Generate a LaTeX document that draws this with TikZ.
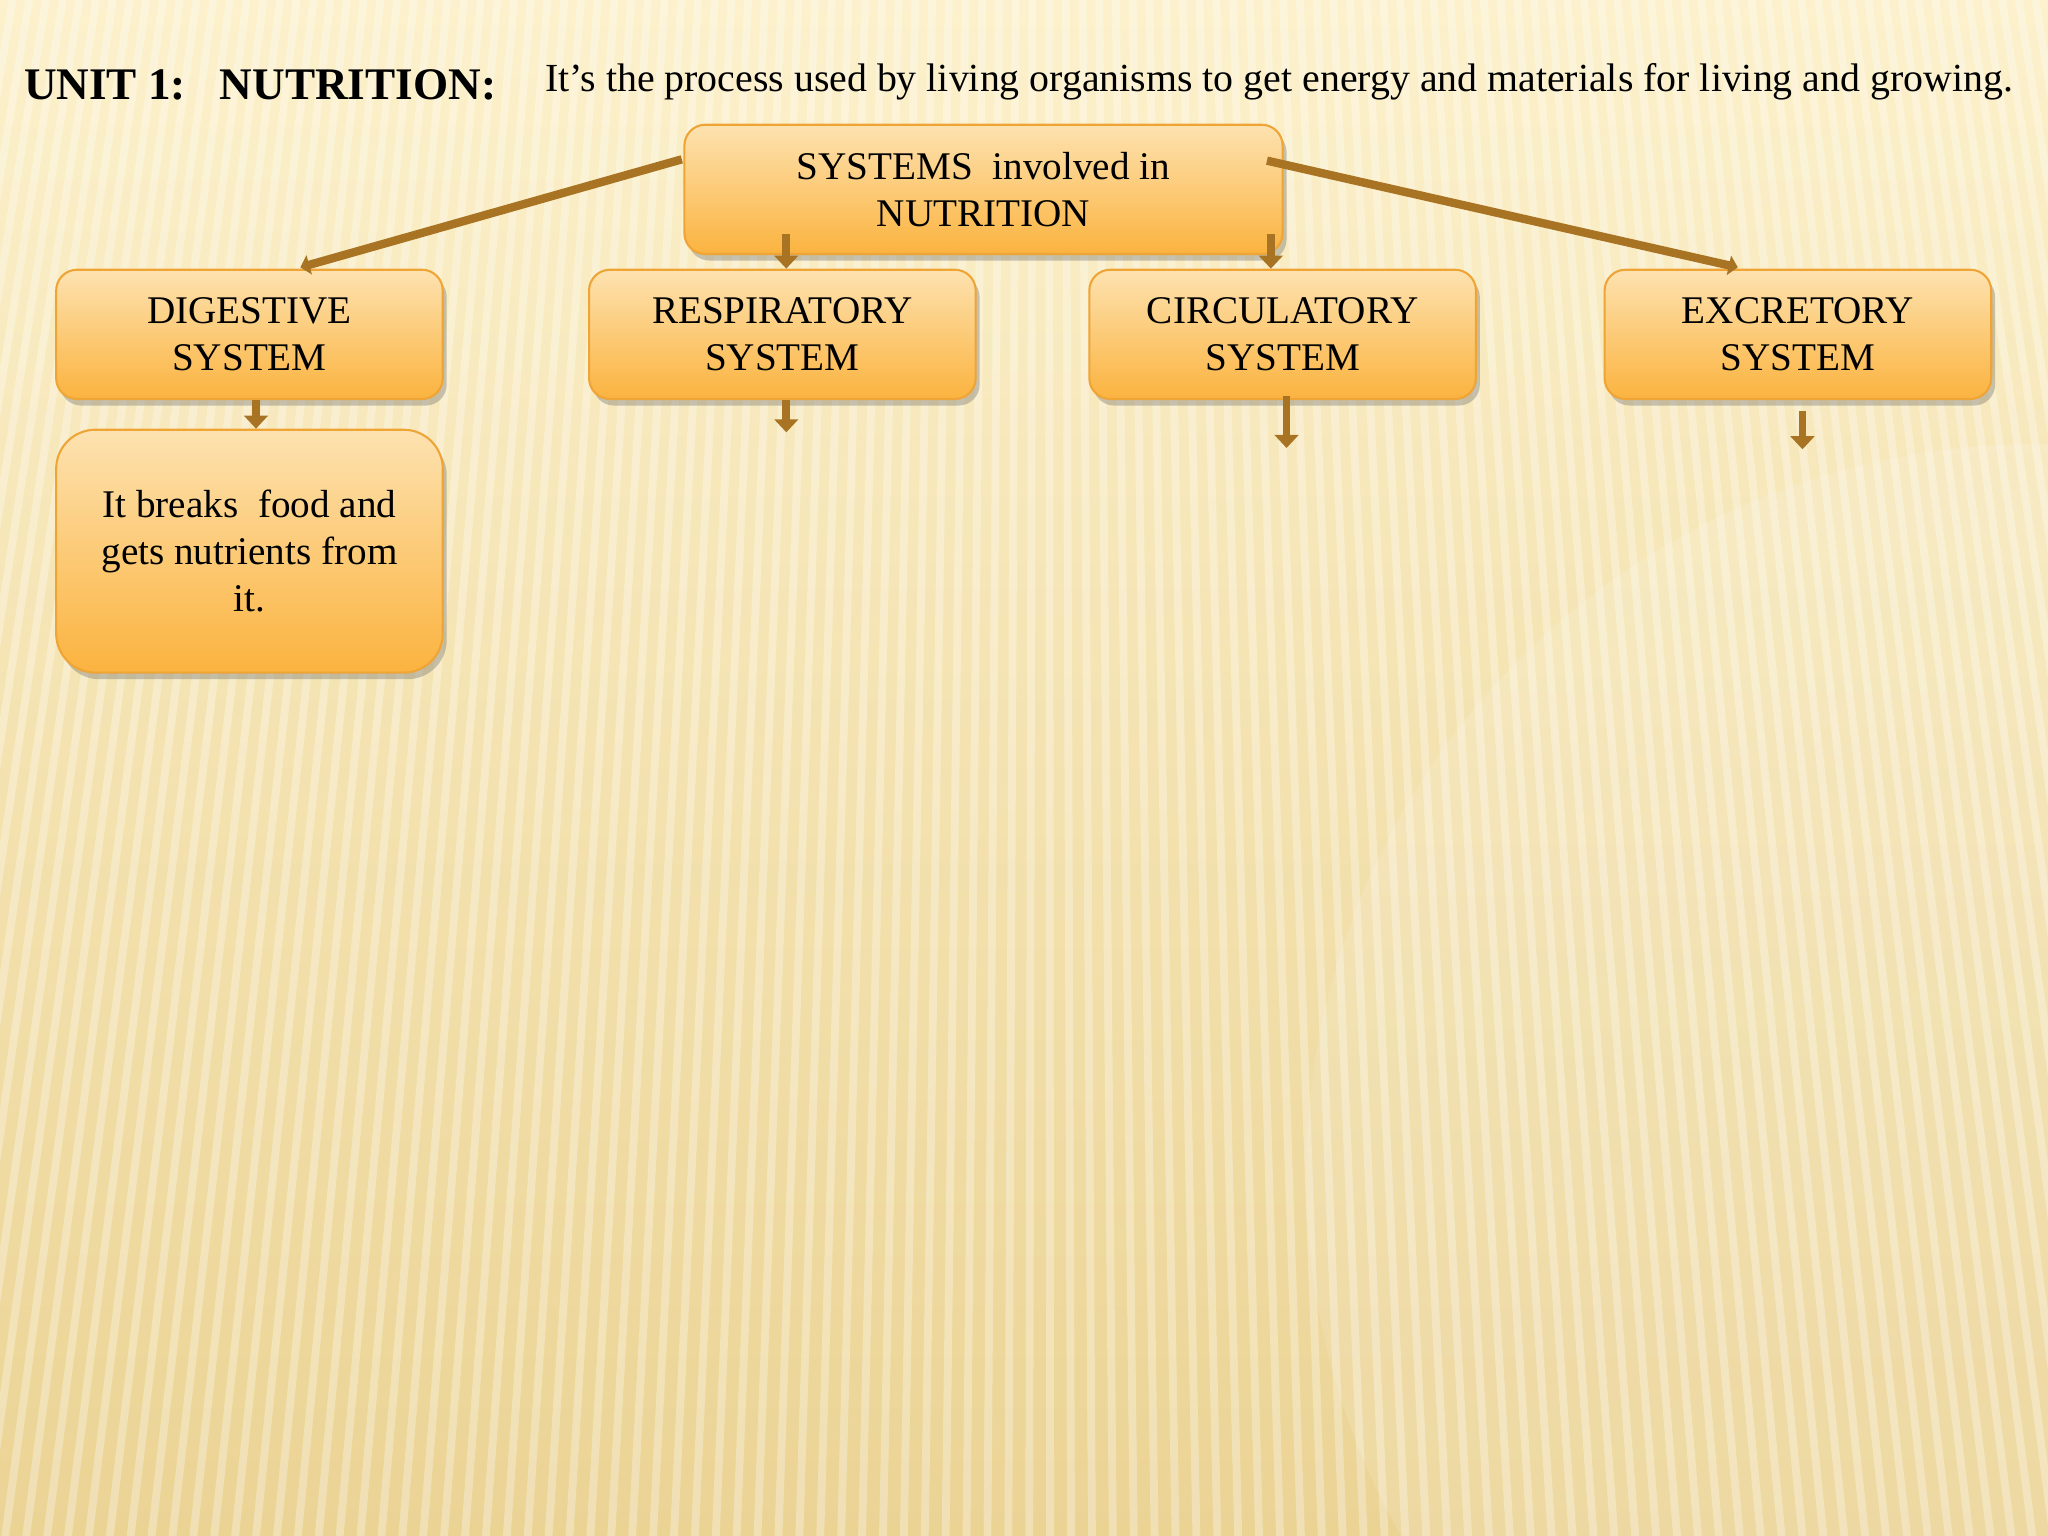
\documentclass[tikz,border=0pt]{standalone}
\usepackage{fontspec}
\setmainfont{Liberation Serif}
\usetikzlibrary{arrows.meta,shadows,calc}
\definecolor{bgtop}{HTML}{FCF1CC}
\definecolor{bgbot}{HTML}{EBD394}
\definecolor{boxtop}{HTML}{FDE2B0}
\definecolor{boxbot}{HTML}{FBB33F}
\definecolor{boxline}{HTML}{EFA436}
\definecolor{arrowc}{HTML}{A87423}
\tikzset{
  sysbox/.style={draw=boxline, line width=0.8pt, rounded corners=8pt,
    top color=boxtop, bottom color=boxbot, align=center,
    minimum width=148pt, minimum height=49.5pt, inner sep=2pt,
    font=\fontsize{15}{18}\selectfont,
    drop shadow={shadow xshift=1.5pt, shadow yshift=-2.5pt, opacity=0.35, fill=black!60}},
  descbox/.style={sysbox, rounded corners=15pt, minimum height=93pt},
  conn/.style={draw=arrowc, line width=3pt, -{Triangle[width=9pt,length=5pt]}},
  slant/.style={draw=arrowc, line width=3.2pt, -{Triangle[width=7.5pt,length=3.5pt]}},
  stripe/.style={draw=white, line width=3pt, opacity=0.3}
}
\begin{document}
\begin{tikzpicture}[x=0.5pt,y=-0.5pt]
\useasboundingbox (0,0) rectangle (1568,1176);
% background
\shade[top color=bgtop, bottom color=bgbot] (0,0) rectangle (1568,1176);
\fill[white, opacity=0.12] (1560,900) circle (560);
\begin{scope}
\clip (0,0) rectangle (1568,1176);
\foreach \k in {0,...,125} {
  \pgfmathsetmacro{\xb}{-220+16*\k}
  \pgfmathsetmacro{\xt}{800+(\xb-800)*0.8}
  \draw[stripe] (\xt,0) -- (\xb,1176);
}
\end{scope}
% title
\node[anchor=base west, inner sep=0pt, font=\fontsize{17.3}{20}\selectfont\bfseries] (title) at (18,76) {UNIT 1:\hspace{13pt}NUTRITION:};
\node[anchor=base west, inner sep=0pt, font=\fontsize{15.25}{17}\selectfont] (sub) at (417,70) {It’s the process used by living organisms to get energy and materials for living and growing.};
% boxes
\node[sysbox, minimum width=229pt] (top) at (753,145) {SYSTEMS\ \ involved in\\NUTRITION};
\node[sysbox] (dig) at (191,256) {DIGESTIVE\\SYSTEM};
\node[sysbox] (resp) at (599,256) {RESPIRATORY\\SYSTEM};
\node[sysbox] (circ) at (982,256) {CIRCULATORY\\SYSTEM};
\node[sysbox] (exc) at (1376.5,256) {EXCRETORY\\SYSTEM};
\node[descbox] (desc) at (191,422) {It breaks\ \ food and\\gets nutrients from\\it.};
% connectors
\coordinate (tl) at (522,122);
\coordinate (tr) at (970,123);
\coordinate (tdl) at (602,179);
\coordinate (tdr) at (973,179);
\coordinate (re) at (602,331);
\coordinate (ce) at (985,343);
\coordinate (es) at (1380,315);
\coordinate (ee) at (1380,344);
\draw[slant] (tl) -- ($(dig.north)+(39,-1)$);
\draw[slant] (tr) -- ($(exc.north)+(-46,-1)$);
\draw[conn] (tdl) -- (tdl |- resp.north);
\draw[conn] (tdr) -- (tdr |- circ.north);
\draw[conn] ($(dig.south)+(5,0)$) -- ($(desc.north)+(5,0)$);
\draw[conn] ($(resp.south)+(3,0)$) -- (re);
\draw[conn] ($(circ.south)+(3,-3)$) -- (ce);
\draw[conn] (es) -- (ee);
\end{tikzpicture}
\end{document}
